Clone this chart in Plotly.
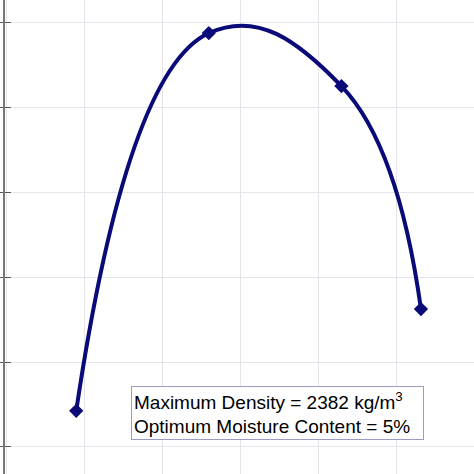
import plotly.graph_objects as go

# Data
moisture = [2.9, 4.6, 6.3, 7.32]            # moisture content (%)
density = [2288.5, 2377.6, 2365.1, 2312.5]  # dry density (kg/m3)
x_ticks = [2, 3, 4, 5, 6, 7, 8]
y_ticks = [2280, 2300, 2320, 2340, 2360, 2380]
note_lines = ["Maximum Density = 2382 kg/m<sup>3</sup>", "Optimum Moisture Content = 5%"]

NAVY = "#0a0a78"

fig = go.Figure()
fig.add_trace(go.Scatter(
    x=moisture, y=density, mode="lines+markers",
    line=dict(color=NAVY, width=4, shape="spline", smoothing=1.3),
    marker=dict(symbol="diamond", size=11, color=NAVY),
    showlegend=False, hoverinfo="skip",
))
# empty trace to activate the overlay axis (inner tick marks)
fig.add_trace(go.Scatter(x=[None], y=[None], yaxis="y2", showlegend=False, hoverinfo="skip"))

fig.update_layout(
    width=474, height=474,
    margin=dict(l=5, r=0, t=0, b=0),
    paper_bgcolor="white", plot_bgcolor="white",
    xaxis=dict(range=[1.987, 8.0], tickvals=x_ticks, showticklabels=False,
               showgrid=True, gridcolor="#e4e4ea", gridwidth=1,
               zeroline=False, showline=False, ticks=""),
    yaxis=dict(range=[2273.6, 2385.4], tickvals=y_ticks, showticklabels=False,
               showgrid=True, gridcolor="#e4e4ea", gridwidth=1,
               zeroline=False, showline=True, linecolor="#777777", linewidth=1.5,
               ticks="outside", ticklen=5, tickcolor="#555555", tickwidth=1),
    yaxis2=dict(range=[2273.6, 2385.4], tickvals=y_ticks, showticklabels=False,
                overlaying="y", side="left", anchor="x", showgrid=False,
                zeroline=False, showline=False,
                ticks="inside", ticklen=6, tickcolor="#555555", tickwidth=1),
    font=dict(family="Liberation Sans, Arial, sans-serif"),
)

fig.add_annotation(
    xref="paper", yref="paper", x=0.2687, y=0.1857,
    xanchor="left", yanchor="top", align="left", valign="middle", showarrow=False,
    text="<br>".join(note_lines),
    width=287, height=48,
    font=dict(size=19, color="black", family="Liberation Sans, Arial, sans-serif"),
    bordercolor="#9b9bc4", borderwidth=1, borderpad=2, bgcolor="white",
)

fig.write_html("out.html", config={"displayModeBar": False},
               post_script="document.body.style.margin='0';")
